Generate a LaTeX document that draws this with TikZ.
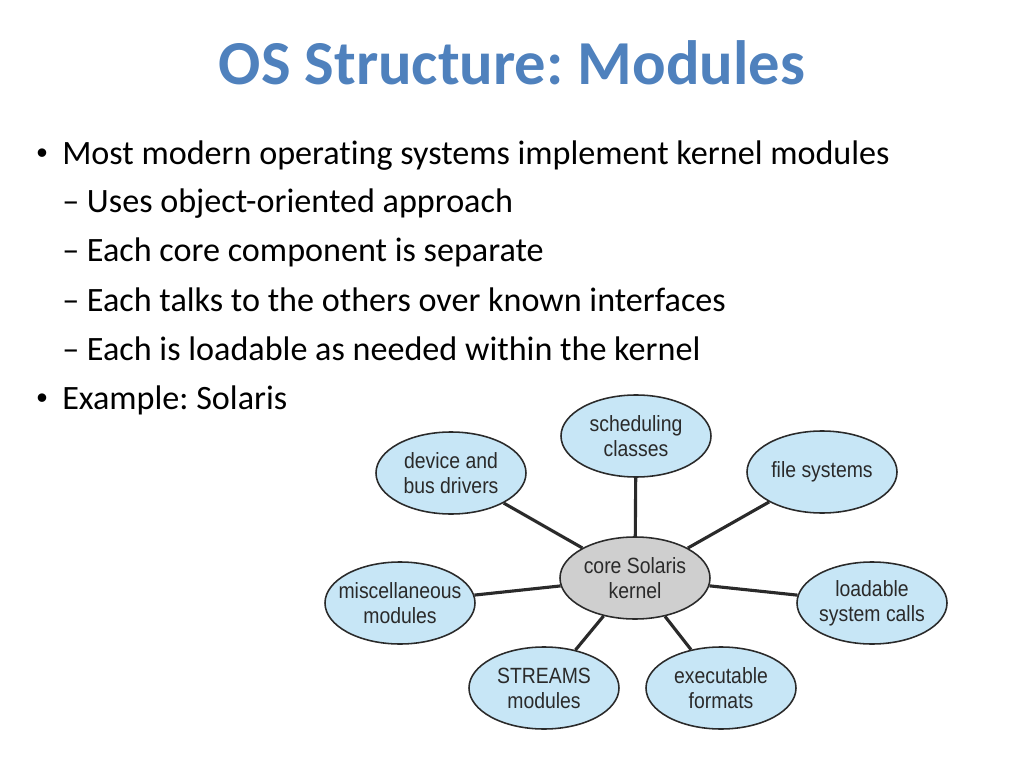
\documentclass[tikz,border=0pt]{standalone}
\usepackage{fontspec}
\setmainfont[Ligatures=NoCommon]{Carlito}
\newfontfamily\diagfont[FakeStretch=0.88]{Liberation Sans}
\newfontfamily\bulletfont{Liberation Sans}
\usepackage{tikz}
\usetikzlibrary{shapes.geometric,positioning}
\definecolor{titleblue}{HTML}{4F81BD}
\definecolor{modblue}{HTML}{C7E6F6}
\definecolor{coregray}{HTML}{CFCFCF}
\definecolor{inkgray}{HTML}{2A2A2A}
\newlength\unitpx
\setlength\unitpx{0.703125pt}
\tikzset{mod/.style={draw=inkgray,fill=modblue,ellipse,line width=1.1pt,minimum width=150\unitpx,minimum height=82\unitpx,inner xsep=-14\unitpx,inner ysep=0pt,align=center,text=inkgray,font=\diagfont\fontsize{15.5}{17.5}\selectfont},
line/.style={anchor=base west,inner sep=0pt,font=\fontsize{24}{28}\selectfont}}
\tikzstyle{link} = [line width=2.2pt,draw=inkgray]

\begin{document}
\frenchspacing
\begin{tikzpicture}[x=\unitpx,y=-\unitpx,
			core/.style={mod,fill=coregray}]

		\useasboundingbox (0,0) rectangle (1024,768);

		% title and bullets
		\node[anchor=base,inner sep=0pt,text=titleblue,font=\bfseries\fontsize{44}{50}\selectfont] (title) at (512,85) {OS Structure: Modules};
		\node[line,anchor=base,font=\bulletfont\fontsize{22}{24}\selectfont] (b1) at (42,164) {\textbullet};
		\node[line] (t1) at (62,165) {Most modern operating systems implement kernel modules};
		\node[line] (t2) at (62,213) {\textendash{} Uses object-oriented approach};
		\node[line] (t3) at (62,262) {\textendash{} Each core component is separate};
		\node[line] (t4) at (62,311) {\textendash{} Each talks to the others over known interfaces};
		\node[line] (t5) at (62,360) {\textendash{} Each is loadable as needed within the kernel};
		\node[line,anchor=base,font=\bulletfont\fontsize{22}{24}\selectfont] (b2) at (42,408) {\textbullet};
		\node[line] (t6) at (62,409) {Example: Solaris};

		% Solaris modules
		\node[core] (core) at (635,578) {core Solaris\\kernel};
		\node[mod] (sched) at (636,436) {scheduling\\classes};
		\node[mod] (dev) at (451,473) {device and\\bus drivers};
		\node[mod] (fs) at (822,472) {file systems};
		\node[mod] (misc) at (400,603) {miscellaneous\\modules};
		\node[mod] (load) at (872,603) {loadable\\system calls};
		\node[mod] (streams) at (544,688) {STREAMS\\modules};
		\node[mod] (exec) at (721,688) {executable\\formats};

		\foreach \m in {sched,dev,fs,misc,load,streams,exec}
			\draw[link] (core) -- (\m);
	\end{tikzpicture}
\end{document}
